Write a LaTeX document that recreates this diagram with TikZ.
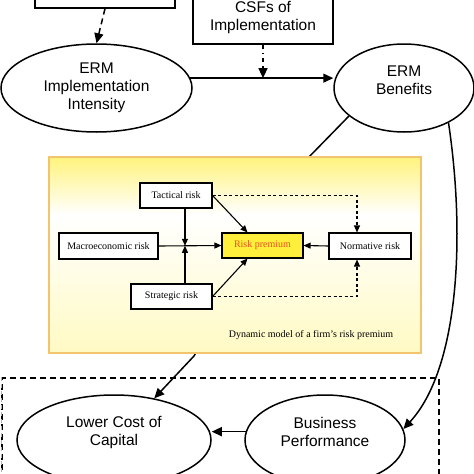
\documentclass[tikz,border=0pt]{standalone}
\usepackage{fontspec}
\setmainfont{Liberation Serif}
\newfontfamily\outerfont{Liberation Sans}
\usetikzlibrary{arrows.meta,shapes.geometric,calc}
\definecolor{boxborder}{RGB}{242,196,110}
\definecolor{boxtop}{RGB}{255,243,125}
\definecolor{boxbot}{RGB}{255,250,195}
\definecolor{rpfill}{RGB}{255,238,60}
\definecolor{rptext}{RGB}{232,83,28}
\tikzset{
  outer/.style={draw=black, line width=1.5pt, font=\outerfont\fontsize{15.5}{18}\selectfont, align=center, inner sep=0pt},
  oellipse/.style={outer, ellipse},
  obox/.style={outer, rectangle},
  otext/.style={font=\outerfont\fontsize{15.5}{18}\selectfont, align=center, inner sep=0pt},
  oarrow/.style={line width=1.5pt, -{Triangle[length=10pt,width=9pt]}},
  ibox/.style={draw=black, line width=1.1pt, fill=white, rectangle, inner sep=0pt, font=\fontsize{10}{12}\selectfont},
  iarrow/.style={line width=1.1pt, -{Triangle[length=7pt,width=6pt]}},
  idash/.style={iarrow, dash pattern=on 3pt off 2.5pt},
}
\begin{document}
\begin{tikzpicture}[x=1pt,y=-1pt]
\useasboundingbox (0,0) rectangle (474,474);
\clip (0,0) rectangle (474,474);
\fill[white] (0,0) rectangle (474,474);

% top boxes
\node[obox, minimum width=140pt, minimum height=56pt] (tl) at (105,-20) {};
\node[obox, minimum width=140pt, minimum height=54pt] (csf) at (263,17) {CSFs of\\Implementation};

% ellipses
\node[oellipse, minimum width=191pt, minimum height=88pt] (impl) at (96.5,88) {ERM\\Implementation\\Intensity};
\node[oellipse, minimum width=140pt, minimum height=88pt] (ben) at (404,88) {};
\node[otext] (bent) at (404,80) {ERM\\Benefits};

\node[oellipse, minimum width=194pt, minimum height=90pt] (lcc) at (114,440) {};
\node[otext] (lcct) at (114,432) {Lower Cost of\\Capital};
\node[oellipse, minimum width=160pt, minimum height=90pt] (bp) at (325,440) {};
\node[otext] (bpt) at (325,432) {Business\\Performance};

% dashed frame
\node[draw=black, line width=1.3pt, dash pattern=on 6pt off 4pt, rectangle, minimum width=437pt, minimum height=140pt, inner sep=0pt] (frame) at (220.5,448) {};
\draw[gray!60, line width=1.5pt, dash pattern=on 4pt off 3pt] (frame.north west) -- (frame.south west);

% connectors outer
\draw[oarrow, dash pattern=on 6pt off 4pt] (tl.south) -- (impl.north);
\coordinate (s1) at (impl.6);
\draw[oarrow] (s1) -- (s1 -| ben.west);
\draw[oarrow, dash pattern=on 4pt off 4pt on 1.5pt off 4pt] (csf.south) -- (csf.south |- s1);
\coordinate (yb1) at (308,158);
\coordinate (yb2) at (194,356);
\draw[oarrow] (ben.207) -- (yb1) -- (yb2) -- (lcc.46);
\draw[oarrow] (ben.-38) .. controls (466,240) and (458,370) .. (bp.8);
\draw[oarrow] (bp.174) -- (bp.174 -| lcc.east);

% yellow panel
\shade[top color=boxtop, bottom color=white] (49,157) rectangle (421,215);
\shade[top color=white, bottom color=boxbot] (49,215) rectangle (421,353);
\node[draw=boxborder, line width=1.5pt, rectangle, minimum width=372pt, minimum height=196pt, inner sep=0pt] (panel) at (235,255) {};

% inner nodes
\node[ibox, minimum width=72pt, minimum height=25pt] (tac) at (176,195.5) {Tactical risk};
\node[ibox, minimum width=99pt, minimum height=26pt] (mac) at (108.5,246) {Macroeconomic risk};
\node[ibox, fill=rpfill, minimum width=81pt, minimum height=25pt, text=rptext] (rp) at (262.5,245.5) {Risk premium};
\node[ibox, minimum width=82pt, minimum height=26pt] (nor) at (370,246) {Normative risk};
\node[ibox, minimum width=81pt, minimum height=25pt] (str) at (171.5,296.5) {Strategic risk};
\node[inner sep=0pt, font=\fontsize{10}{12}\selectfont] (cap) at (311,335) {Dynamic model of a firm’s risk premium};

% inner connectors
\coordinate (jn) at ($(mac.east)!0.42!(rp.west)$);
\draw[iarrow] (mac.east) -- (rp.west);
\draw[iarrow] (tac.south -| jn) -- (jn);
\draw[iarrow] (str.north -| jn) -- (jn);
\draw[iarrow] (tac.east) -- ([xshift=-15pt]rp.north);
\draw[iarrow] (str.east) -- ([xshift=-15pt]rp.south);
\draw[iarrow] (nor.west) -- (rp.east);
\draw[idash] (tac.east) -| ([xshift=-13pt]nor.north);
\draw[idash] (str.east) -| ([xshift=-13pt]nor.south);
\end{tikzpicture}
\end{document}
